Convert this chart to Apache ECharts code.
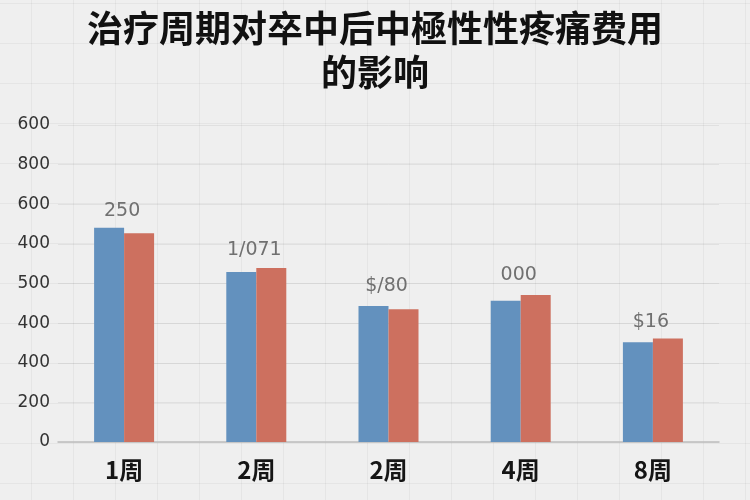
<!DOCTYPE html>
<html>
<head>
<meta charset="utf-8">
<script src="https://cdn.jsdelivr.net/npm/echarts@6/dist/echarts.min.js"></script>
<style>
html,body{margin:0;padding:0;}
#chart{width:750px;height:500px;
background-color:#efefef;
background-image:linear-gradient(rgba(0,0,0,0.045) 1px, transparent 1px),linear-gradient(90deg, rgba(0,0,0,0.045) 1px, transparent 1px);
background-size:42px 40px;background-position:31px 3px;}
</style>
</head>
<body>
<div id="chart"></div>
<script>
const titleText = '治疗周期对卒中后中極性性疼痛费用\n的影响';
const categories = ['1周', '2周', '2周', '4周', '8周'];
const seriesBlue = [1082, 858, 686, 713, 503];
const seriesRed = [1053, 878, 670, 742, 523];
const groupLabels = ['250', '1/071', '$/80', '000', '$16'];
const yTickLabels = ['0', '200', '400', '400', '500', '400', '600', '800', '600'];

const chart = echarts.init(document.getElementById('chart'));
const labelDistances = [7, 12, 11, 16, 11];
chart.setOption({
  backgroundColor: 'transparent',
  animation: false,
  title: {
    text: titleText,
    left: 'center',
    top: 1,
    textStyle: {
      fontFamily: 'Noto Sans CJK SC',
      fontSize: 36,
      fontWeight: 'bold',
      color: '#111',
      lineHeight: 44
    }
  },
  grid: { left: 58, right: 31, top: 125, bottom: 58 },
  xAxis: {
    type: 'category',
    data: categories,
    axisLine: { show: true, lineStyle: { color: '#bdbdbd', width: 1.5 } },
    axisTick: { show: false },
    axisLabel: {
      margin: 16,
      fontFamily: 'Noto Sans CJK SC',
      fontSize: 24,
      fontWeight: 'bold',
      color: '#151515'
    },
    splitLine: { show: false }
  },
  yAxis: {
    type: 'value',
    min: 0,
    max: 1600,
    interval: 200,
    axisLine: { show: false },
    axisTick: { show: false },
    axisLabel: {
      margin: 8,
      fontFamily: 'DejaVu Sans',
      fontSize: 17,
      color: '#333',
      formatter: v => yTickLabels[Math.round(v / 200)]
    },
    splitLine: { show: true, lineStyle: { color: 'rgba(0,0,0,0.06)' } }
  },
  series: [
    {
      type: 'bar',
      data: seriesBlue.map((v, i) => ({
        value: v,
        label: { distance: labelDistances[i] }
      })),
      barWidth: 30,
      barGap: '0%',
      itemStyle: { color: '#6391be' },
      label: {
        show: true,
        position: 'top',
        offset: [13, 0],
        fontFamily: 'DejaVu Sans',
        fontSize: 19,
        color: '#707070',
        formatter: p => groupLabels[p.dataIndex]
      }
    },
    {
      type: 'bar',
      data: seriesRed,
      barWidth: 30,
      barGap: '0%',
      itemStyle: { color: '#cd705f' }
    }
  ]
});
</script>
</body>
</html>
